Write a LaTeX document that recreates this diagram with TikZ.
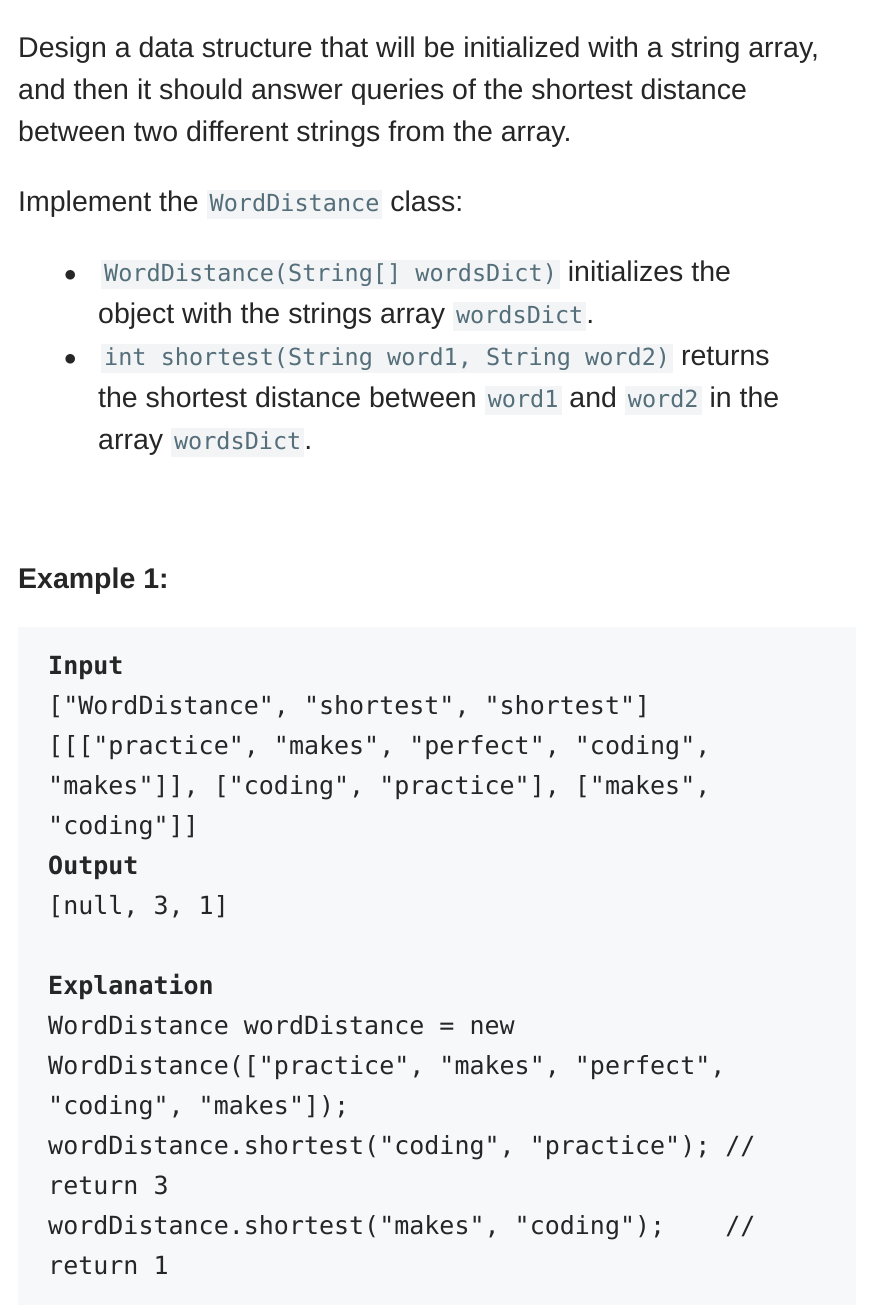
\documentclass[tikz,border=0pt]{standalone}
\usepackage{fontspec}
\setmainfont{Liberation Sans}
\setmonofont{DejaVu Sans Mono}
\definecolor{codebg}{HTML}{F3F4F5}
\definecolor{codefg}{HTML}{546E7A}
\definecolor{bodyfg}{HTML}{262626}
\definecolor{blockbg}{HTML}{F7F8FA}
\newcommand\ic[1]{{\setlength\fboxsep{3pt}\colorbox{codebg}{\fontsize{23.5}{26}\selectfont\ttfamily\color{codefg}\vphantom{Ag}#1}}}
\begin{document}
\begin{tikzpicture}[x=1pt,y=-1pt,
  txt/.style={anchor=base west, inner sep=0pt, font=\fontsize{28.5}{30}\selectfont, text=bodyfg},
  codeline/.style={anchor=base west, inner sep=0pt, font=\fontsize{25}{30}\selectfont\ttfamily, text=bodyfg}]
\useasboundingbox[fill=white] (0,0) rectangle (882,1310);
% description
\node[txt] (d1) at (18,57) {Design a data structure that will be initialized with a string array,};
\node[txt] (d2) at (18,99) {and then it should answer queries of the shortest distance};
\node[txt] (d3) at (18,141) {between two different strings from the array.};
\node[txt] (impl) at (18,211) {Implement the \ic{WordDistance} class:};
% bullets
\node[txt] (b1) at (64,281) {$\bullet$};
\node[txt] (b1a) at (101,281) {\ic{WordDistance(String[] wordsDict)} initializes the};
\node[txt] (b1b) at (98,323) {object with the strings array \ic{wordsDict}.};
\node[txt] (b2) at (64,365) {$\bullet$};
\node[txt] (b2a) at (101,365) {\ic{int shortest(String word1, String word2)} returns};
\node[txt] (b2b) at (98,407) {the shortest distance between \ic{word1} and \ic{word2} in the};
\node[txt] (b2c) at (98,449) {array \ic{wordsDict}.};
\node[txt, font=\bfseries\fontsize{28.5}{30}\selectfont] (ex) at (18,588) {Example 1:};
% code block
\fill[blockbg] (18,627) rectangle (856,1305);
\node[codeline, font=\bfseries\fontsize{25}{30}\selectfont\ttfamily] (in) at (48,674) {Input};
\node[codeline] (c1) at (48,714) {["WordDistance", "shortest", "shortest"]};
\node[codeline] (c2) at (48,754) {[[["practice", "makes", "perfect", "coding",};
\node[codeline] (c3) at (48,794) {"makes"]], ["coding", "practice"], ["makes",};
\node[codeline] (c4) at (48,834) {"coding"]]};
\node[codeline, font=\bfseries\fontsize{25}{30}\selectfont\ttfamily] (out) at (48,874) {Output};
\node[codeline] (c5) at (48,914) {[null, 3, 1]};
\node[codeline, font=\bfseries\fontsize{25}{30}\selectfont\ttfamily] (expl) at (48,994) {Explanation};
\node[codeline] (c6) at (48,1034) {WordDistance wordDistance = new};
\node[codeline] (c7) at (48,1074) {WordDistance(["practice", "makes", "perfect",};
\node[codeline] (c8) at (48,1114) {"coding", "makes"]);};
\node[codeline] (c9) at (48,1154) {wordDistance.shortest("coding", "practice"); //};
\node[codeline] (c10) at (48,1194) {return 3};
\node[codeline] (c11) at (48,1234) {wordDistance.shortest("makes", "coding");~~~~//};
\node[codeline] (c12) at (48,1274) {return 1};
\end{tikzpicture}
\end{document}
